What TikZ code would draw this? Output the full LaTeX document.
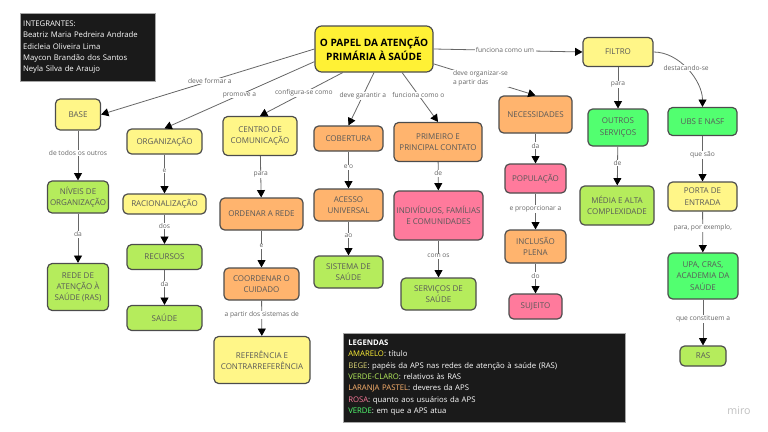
\documentclass[tikz,border=0pt]{standalone}
\usepackage{fontspec}
\setsansfont{Open Sans}
\usetikzlibrary{arrows.meta}
\definecolor{titleyellow}{HTML}{FFF135}
\definecolor{beige}{HTML}{FFF688}
\definecolor{lightgreen}{HTML}{B5EC5C}
\definecolor{pastelorange}{HTML}{FFB46E}
\definecolor{rose}{HTML}{FF7A9C}
\definecolor{brightgreen}{HTML}{52FF70}
\definecolor{panel}{HTML}{1A1A1A}
\newcommand{\boxfont}{\fontsize{6}{8.4}\selectfont}
\newcommand{\edgefont}{\fontsize{5}{7.2}\selectfont}
\newcommand{\panelfont}{\fontsize{5.8}{8.5}\selectfont}

\begin{document}
\begin{tikzpicture}[
		x=0.75pt, y=-0.75pt,
		font=\sffamily,
		wh/.style 2 args={minimum width=#1*0.75pt, minimum height=#2*0.75pt},
		concept/.style={draw=black!70, line width=0.9pt, rounded corners=3.5pt, inner sep=0pt, align=center, text=black!65, font=\sffamily\boxfont},
		yellowbox/.style={concept, fill=beige},
		limebox/.style={concept, fill=lightgreen},
		orangebox/.style={concept, fill=pastelorange},
		rosebox/.style={concept, fill=rose},
		greenbox/.style={concept, fill=brightgreen},
		panelbox/.style={draw=black!35, fill=panel, text=white, inner sep=0pt, anchor=north west, align=left, font=\sffamily\panelfont},
		link/.style={-{Triangle[length=5.5pt, width=6pt, color=black]}, black!60, line width=0.6pt},
		edgetext/.style={fill=white, inner xsep=1pt, inner ysep=0.5pt, text=black!60, align=left, font=\sffamily\edgefont}
		]
		\useasboundingbox (0,0) rectangle (768,432);
		
		% 1. Title and the two dark panels
		\node[concept, fill=titleyellow, wh={118}{46}, text=black, font=\sffamily\bfseries\fontsize{7.6}{10.4}\selectfont, rounded corners=5pt] (title) at (374,49) {O PAPEL DA ATENÇÃO\\PRIMÁRIA À SAÚDE};
		\node[panelbox, wh={135}{68}, text width=97pt] (members) at (20,13) {INTEGRANTES:\\Beatriz Maria Pedreira Andrade\\Edicleia Oliveira Lima\\Maycon Brandão dos Santos\\Neyla Silva de Araujo};
		\node[panelbox, wh={282}{89}, text width=204pt] (legend) at (343,333) {\textbf{LEGENDAS}\\
			\textcolor{titleyellow}{AMARELO}: título\\
			\textcolor{beige!85!black}{BEGE}: papéis da APS nas redes de atenção à saúde (RAS)\\
			\textcolor{lightgreen}{VERDE-CLARO}: relativos às RAS\\
			\textcolor{pastelorange}{LARANJA PASTEL}: deveres da APS\\
			\textcolor{rose}{ROSA}: quanto aos usuários da APS\\
			\textcolor{brightgreen}{VERDE}: em que a APS atua};
		\node[text=black!25, font=\sffamily\fontsize{8}{9}\selectfont, inner sep=0pt] (miro) at (739,411) {miro};
		
		% 2. Columns of concepts, left to right
		\node[yellowbox, wh={45}{31}] (base) at (78,114.5) {BASE};
		\node[limebox, wh={61}{32}] (levels) at (78,197) {NÍVEIS DE\\ORGANIZAÇÃO};
		\node[limebox, wh={61}{47}] (network) at (78,287) {REDE DE\\ATENÇÃO À\\SAÚDE (RAS)};
		
		\node[yellowbox, wh={75}{25}] (organization) at (164.5,141.5) {ORGANIZAÇÃO};
		\node[yellowbox, wh={83}{20}] (rationalization) at (164.5,204) {RACIONALIZAÇÃO};
		\node[limebox, wh={75}{25}] (resources) at (164.5,257) {RECURSOS};
		\node[limebox, wh={75}{25}] (health) at (164.5,318) {SAÚDE};
		
		\node[yellowbox, wh={74}{39}] (center) at (260,136) {CENTRO DE\\COMUNICAÇÃO};
		\node[orangebox, wh={83}{32}] (order) at (261.5,214) {ORDENAR A REDE};
		\node[orangebox, wh={75}{32}] (coordinate) at (261.5,284) {COORDENAR O\\CUIDADO};
		\node[yellowbox, wh={96}{47}] (referral) at (262,360) {REFERÊNCIA E\\CONTRARREFERÊNCIA};
		
		\node[orangebox, wh={69}{25}] (coverage) at (348.5,138.5) {COBERTURA};
		\node[orangebox, wh={69}{32}] (access) at (348.5,205) {ACESSO\\UNIVERSAL};
		\node[limebox, wh={69}{32}] (system) at (348.5,272) {SISTEMA DE\\SAÚDE};
		
		\node[orangebox, wh={88}{39}] (contact) at (438,142) {PRIMEIRO E\\PRINCIPAL CONTATO};
		\node[rosebox, wh={89}{49}] (families) at (438.5,215.5) {INDIVÍDUOS, FAMÍLIAS\\E COMUNIDADES};
		\node[limebox, wh={75}{32}] (services) at (438.5,294) {SERVIÇOS DE\\SAÚDE};
		
		\node[orangebox, wh={73}{37}] (needs) at (535.5,114.5) {NECESSIDADES};
		\node[rosebox, wh={61}{29}] (population) at (535.5,178.5) {POPULAÇÃO};
		\node[orangebox, wh={61}{33}] (inclusion) at (535.5,246.5) {INCLUSÃO\\PLENA};
		\node[rosebox, wh={53}{25}] (subject) at (535.5,306.5) {SUJEITO};
		
		\node[yellowbox, wh={70}{29}] (filter) at (618,52) {FILTRO};
		\node[greenbox, wh={60}{37}] (others) at (618,127.5) {OUTROS\\SERVIÇOS};
		\node[limebox, wh={74}{39}] (complexity) at (617,205.5) {MÉDIA E ALTA\\COMPLEXIDADE};
		
		\node[greenbox, wh={69}{28}] (ubs) at (702.5,121.5) {UBS E NASF};
		\node[yellowbox, wh={69}{29}] (door) at (702.5,196.5) {PORTA DE\\ENTRADA};
		\node[greenbox, wh={70}{46}] (upa) at (703,276) {UPA, CRAS,\\ACADEMIA DA\\SAÚDE};
		\node[limebox, wh={46}{20}] (ras) at (703,356) {RAS};
		
		% 3. Connections from the title
		\draw[link] (title.west) -- node[edgetext, pos=0.49] {deve formar a} (base.east);
		\draw[link] (title.192) -- node[edgetext, pos=0.5] {promove a} (organization.north);
		\draw[link] (title.217) -- node[edgetext, pos=0.47] {configura-se como} (center.north);
		\draw[link] (title.south) -- node[edgetext, pos=0.44] {deve garantir a} (coverage.north);
		\draw[link] (title.320) -- node[edgetext, pos=0.45] {funciona como o} (contact.north);
		\draw[link] (title.east) -- node[edgetext, pos=0.48] {funciona como um} (filter.west);
		\draw[link] (title.346) -- node[edgetext, pos=0.46] {deve organizar-se\\a partir das} (needs.north);
		
		% 4. Connections inside the columns
		\draw[link] (base) -- node[edgetext, pos=0.45] {de todos os outros} (levels);
		\draw[link] (levels) -- node[edgetext, pos=0.42] {da} (network);
		\draw[link] (organization) -- node[edgetext, pos=0.42] {e} (rationalization);
		\draw[link] (rationalization) -- node[edgetext, pos=0.38] {dos} (resources);
		\draw[link] (resources) -- node[edgetext, pos=0.4] {da} (health);
		\draw[link] (center) -- node[edgetext, pos=0.45] {para} (order);
		\draw[link] (order) -- node[edgetext, pos=0.42] {e} (coordinate);
		\draw[link] (coordinate) -- node[edgetext, pos=0.4] {a partir dos sistemas de} (referral);
		\draw[link] (coverage) -- node[edgetext, pos=0.42] {e o} (access);
		\draw[link] (access) -- node[edgetext, pos=0.42] {ao} (system);
		\draw[link] (contact) -- node[edgetext, pos=0.4] {de} (families);
		\draw[link] (families) -- node[edgetext, pos=0.42] {com os} (services);
		\draw[link] (needs) -- node[edgetext, pos=0.4] {da} (population);
		\draw[link] (population) -- node[edgetext, pos=0.42] {e proporcionar a} (inclusion);
		\draw[link] (inclusion) -- node[edgetext, pos=0.4] {do} (subject);
		\draw[link] (filter) -- node[edgetext, pos=0.42] {para} (others);
		\draw[link] (others) -- node[edgetext, pos=0.42] {de} (complexity);
		\draw[link] (ubs) -- node[edgetext, pos=0.42] {que são} (door);
		\draw[link] (door) -- node[edgetext, pos=0.4] {para, por exemplo,} (upa);
		\draw[link] (upa) -- node[edgetext, pos=0.42] {que constituem a} (ras);
		
		% Curved one on the right
		\draw[link] (filter.east) to[out=0, in=90, looseness=0.9] node[edgetext, pos=0.47] {destacando-se} (ubs.north);
		
	\end{tikzpicture}
\end{document}
